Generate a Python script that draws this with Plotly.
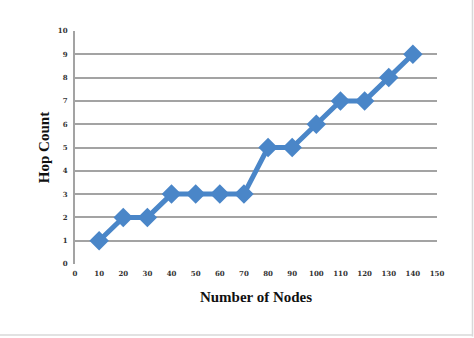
import plotly.graph_objects as go

nodes = [10, 20, 30, 40, 50, 60, 70, 80, 90, 100, 110, 120, 130, 140]
hop_count = [1, 2, 2, 3, 3, 3, 3, 5, 5, 6, 7, 7, 8, 9]
x_ticks = list(range(0, 151, 10))
y_ticks = list(range(0, 11))

fig = go.Figure()
fig.add_trace(go.Scatter(
    x=nodes, y=hop_count, mode="lines+markers",
    line=dict(color="#4a86c8", width=5),
    marker=dict(symbol="diamond", size=15, color="#4a86c8"),
    showlegend=False,
))

tickfont = dict(family="DejaVu Serif", size=7, color="#333333", weight="bold")
titlefont = dict(family="Liberation Serif", size=15, color="#111111")
fig.update_layout(
    width=474, height=338,
    margin=dict(l=75, r=37, t=31, b=74),
    paper_bgcolor="white", plot_bgcolor="white",
    xaxis=dict(range=[0, 150], tickvals=x_ticks, showgrid=False, zeroline=False,
               showline=False, ticks="", tickfont=tickfont, ticklabelstandoff=4,
               title=dict(text="<b>Number of Nodes</b>", font=titlefont, standoff=14)),
    yaxis=dict(range=[0, 10], tickvals=y_ticks, showgrid=True, gridcolor="#a3a3a3",
               gridwidth=2, zeroline=False, showline=True, linecolor="#a3a3a3",
               linewidth=2, ticks="", tickfont=tickfont, ticklabelstandoff=4,
               title=dict(text="<b>Hop Count</b>", font=titlefont, standoff=5)),
    shapes=[
        dict(type="line", xref="paper", yref="paper", x0=1 + 35.5/362, x1=1 + 35.5/362,
             y0=-72.5/233, y1=1 + 31/233, line=dict(color="#d8d8d8", width=1.5)),
        dict(type="line", xref="paper", yref="paper", x0=-75/362, x1=1 + 35.5/362,
             y0=-71/233, y1=-71/233, line=dict(color="#d8d8d8", width=1.5)),
    ],
)

fig.write_html("out.html")
